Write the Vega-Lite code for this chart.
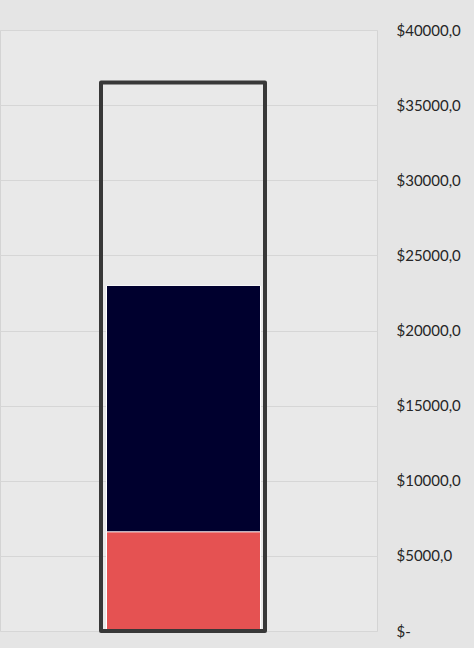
{
  "$schema": "https://vega.github.io/schema/vega-lite/v6.json",
  "autosize": {"type": "none"},
  "width": 377,
  "height": 601,
  "padding": {"left": 0, "top": 30, "right": 97, "bottom": 17},
  "background": "#e5e5e5",
  "data": {
    "values": [
      {"series": "Goal", "amount": 36500},
      {"series": "Total", "amount": 23000},
      {"series": "Received", "amount": 6600}
    ]
  },
  "encoding": {
    "x": {"datum": "Fund", "type": "nominal", "axis": null},
    "y": {
      "field": "amount",
      "type": "quantitative",
      "scale": {"domain": [0, 40000], "nice": false},
      "axis": {
        "orient": "right",
        "values": [0, 5000, 10000, 15000, 20000, 25000, 30000, 35000, 40000],
        "labelExpr": "datum.value == 0 ? '$-' : '$' + datum.value + ',0'",
        "title": null,
        "domain": false,
        "ticks": false,
        "grid": true,
        "gridColor": "#d6d6d6",
        "gridWidth": 1,
        "labelAlign": "left",
        "labelPadding": 19,
        "labelFont": "Lato",
        "labelFontSize": 15,
        "labelColor": "#262626"
      }
    }
  },
  "layer": [
    {
      "transform": [{"filter": "datum.series == 'Total'"}],
      "mark": {"type": "bar", "size": 154, "xOffset": -5, "color": "#00002e", "stroke": "#ffffff", "strokeWidth": 1}
    },
    {
      "transform": [{"filter": "datum.series == 'Received'"}],
      "mark": {"type": "bar", "size": 154, "xOffset": -5, "color": "#e55252", "stroke": "#ffffff", "strokeWidth": 1}
    },
    {
      "transform": [{"filter": "datum.series == 'Goal'"}],
      "mark": {"type": "bar", "size": 164, "xOffset": -5.5, "fill": null, "fillOpacity": 0, "stroke": "#383838", "strokeWidth": 4, "strokeJoin": "round"}
    }
  ],
  "config": {
    "view": {"fill": "#e9e9e9", "stroke": "#d4d4d4"}
  }
}
